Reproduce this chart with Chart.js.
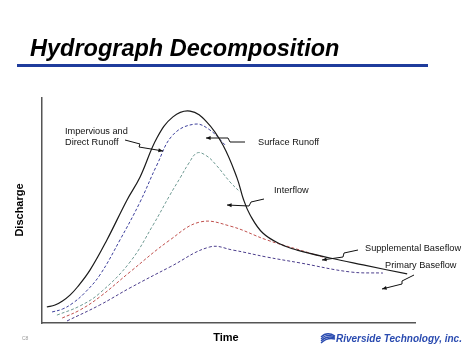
<!DOCTYPE html>
<html>
<head>
<meta charset="utf-8">
<script src="https://cdn.jsdelivr.net/npm/chart.js@4/dist/chart.umd.min.js"></script>
<style>
  html, body { margin: 0; padding: 0; background: #ffffff; }
  #wrap { position: relative; width: 474px; height: 355px; }
  canvas { display: block; }
</style>
</head>
<body>
<div id="wrap"><canvas id="c" width="474" height="355"></canvas></div>
<script>
// ---- Data (time units 0-100, discharge units 0-100) ----
const totalT = [1.3, 3.5, 5.5, 7.5, 9.5, 12.9, 17.4, 22.8, 26.3, 30.8, 35.1, 39.7, 44.2, 48.5, 52.3, 54.0, 55.8, 59.2, 64.0, 68.4, 77.2, 86.1, 97.9];
const totalQ = [7.1, 8.0, 9.8, 12.4, 16.0, 23.6, 36.9, 54.7, 64.9, 82.2, 91.6, 94.2, 89.3, 79.1, 64.4, 55.0, 48.0, 40.0, 35.0, 32.4, 28.9, 25.8, 21.8];

const imperviousT = [2.7, 5.5, 8.3, 11.5, 15.5, 20.9, 26.3, 30.8, 35.1, 41.0, 45.0, 49.1];
const imperviousQ = [4.9, 6.2, 8.9, 13.5, 21.3, 36.9, 53.8, 70.2, 83.6, 88.4, 85.8, 79.1];

const surfaceT = [4.0, 10.2, 15.5, 23.6, 29.8, 34.3, 37.0, 39.4, 41.6, 44.2, 46.9, 50.4, 53.1];
const surfaceQ = [3.5, 7.6, 13.3, 27.1, 43.6, 56.9, 64.4, 71.1, 75.6, 74.2, 69.8, 62.7, 58.2];

const interflowT = [5.4, 10.2, 15.5, 23.6, 34.3, 42.4, 50.4, 60.3, 69.2, 75.3];
const interflowQ = [2.2, 5.8, 11.6, 22.7, 36.9, 44.9, 43.1, 36.9, 32.4, 29.3];

const baseflowT = [6.7, 15.5, 23.6, 34.3, 45.0, 51.2, 60.3, 69.2, 82.6, 91.4];
const baseflowQ = [0.9, 8.0, 15.6, 24.9, 33.8, 32.4, 29.3, 26.7, 22.7, 22.2];

const seriesNames = ["Total", "Impervious and Direct Runoff", "Surface Runoff", "Interflow", "Primary Baseflow"];
const axisTitles = { x: "Time", y: "Discharge" };
const chartTitle = "Hydrograph Decomposition";
const companyName = "Riverside Technology, inc.";

function pts(t, q) { return t.map((v, i) => ({ x: v, y: q[i] })); }

const annotations = [
  { lines: ["Impervious and", "Direct Runoff"], tx: 65, ty: 131, path: [[125,140],[140,144],[139,147],[163,151]] },
  { lines: ["Surface Runoff"], tx: 258, ty: 142, path: [[245,142],[230,142],[228,138],[206,138]] },
  { lines: ["Interflow"], tx: 274, ty: 190, path: [[264,199],[251,202],[249,206],[227,205]] },
  { lines: ["Supplemental Baseflow"], tx: 365, ty: 248, path: [[358,250],[344,253],[343,257],[322,260]] },
  { lines: ["Primary Baseflow"], tx: 385, ty: 265, path: [[414,275],[402,281],[402,284],[382,289]] }
];

const decorPlugin = {
  id: 'decor',
  afterDraw(chart) {
    const ctx = chart.ctx;
    ctx.save();
    // title
    ctx.fillStyle = '#000';
    ctx.font = 'italic bold 23.5px "Liberation Sans", Arial, sans-serif';
    ctx.textBaseline = 'alphabetic';
    ctx.textAlign = 'left';
    ctx.fillText(chartTitle, 30, 56);
    // underline
    ctx.fillStyle = '#1f3c9c';
    ctx.fillRect(17, 64, 411, 3);
    // axis titles
    ctx.fillStyle = '#000';
    ctx.font = 'bold 11px "Liberation Sans", Arial, sans-serif';
    ctx.textAlign = 'center';
    ctx.textBaseline = 'middle';
    ctx.fillText(axisTitles.x, 226, 338);
    ctx.save();
    ctx.translate(20, 210);
    ctx.rotate(-Math.PI / 2);
    ctx.fillText(axisTitles.y, 0, 0);
    ctx.restore();
    // annotations
    ctx.font = '9.2px "Liberation Sans", Arial, sans-serif';
    ctx.textAlign = 'left';
    ctx.textBaseline = 'middle';
    ctx.fillStyle = '#111';
    ctx.strokeStyle = '#111';
    ctx.lineWidth = 1;
    annotations.forEach(a => {
      a.lines.forEach((l, i) => ctx.fillText(l, a.tx, a.ty + i * 11.5));
      ctx.beginPath();
      a.path.forEach((p, i) => i ? ctx.lineTo(p[0], p[1]) : ctx.moveTo(p[0], p[1]));
      ctx.stroke();
      const e = a.path[a.path.length - 1], s = a.path[a.path.length - 2];
      const ang = Math.atan2(e[1] - s[1], e[0] - s[0]);
      ctx.beginPath();
      ctx.moveTo(e[0], e[1]);
      ctx.lineTo(e[0] - 5 * Math.cos(ang - 0.4), e[1] - 5 * Math.sin(ang - 0.4));
      ctx.lineTo(e[0] - 5 * Math.cos(ang + 0.4), e[1] - 5 * Math.sin(ang + 0.4));
      ctx.closePath();
      ctx.fill();
    });
    // footer small mark
    ctx.fillStyle = '#999';
    ctx.font = '5px "Liberation Sans", Arial, sans-serif';
    ctx.fillText('C8', 22, 339);
    // company logo
    ctx.strokeStyle = '#2a4bb0';
    ctx.lineWidth = 1.3;
    for (let i = 0; i < 4; i++) {
      ctx.beginPath();
      ctx.moveTo(321, 343 - i * 2);
      ctx.quadraticCurveTo(327, 337 - i * 2, 335, 339 - i * 2 + i);
      ctx.stroke();
    }
    ctx.fillStyle = '#2a4bb0';
    ctx.font = 'italic bold 10px "Liberation Sans", Arial, sans-serif';
    ctx.fillText(companyName, 336, 339);
    ctx.restore();
  }
};

const dashed = [3, 2];
new Chart(document.getElementById('c'), {
  type: 'scatter',
  data: {
    datasets: [
      { label: seriesNames[0], data: pts(totalT, totalQ), borderColor: '#1a1a1a', borderWidth: 1.2, showLine: true, pointRadius: 0, tension: 0.4 },
      { label: seriesNames[1], data: pts(imperviousT, imperviousQ), borderColor: '#3c3f9c', borderWidth: 1, borderDash: dashed, showLine: true, pointRadius: 0, tension: 0.4 },
      { label: seriesNames[2], data: pts(surfaceT, surfaceQ), borderColor: '#6f9a93', borderWidth: 1, borderDash: dashed, showLine: true, pointRadius: 0, tension: 0.4 },
      { label: seriesNames[3], data: pts(interflowT, interflowQ), borderColor: '#c0504d', borderWidth: 1, borderDash: dashed, showLine: true, pointRadius: 0, tension: 0.4 },
      { label: seriesNames[4], data: pts(baseflowT, baseflowQ), borderColor: '#4b3d8c', borderWidth: 1, borderDash: dashed, showLine: true, pointRadius: 0, tension: 0.4 }
    ]
  },
  options: {
    responsive: false,
    animation: false,
    layout: { padding: { left: 42, right: 59, top: 98, bottom: 32 } },
    plugins: { legend: { display: false }, tooltip: { enabled: false }, title: { display: false } },
    scales: {
      x: { min: 0, max: 100, ticks: { display: false }, grid: { display: false, drawTicks: false }, border: { display: true, color: '#555', width: 1.5 } },
      y: { min: 0, max: 100, ticks: { display: false }, grid: { display: false, drawTicks: false }, border: { display: true, color: '#555', width: 1.5 } }
    }
  },
  plugins: [decorPlugin]
});
</script>
</body>
</html>
